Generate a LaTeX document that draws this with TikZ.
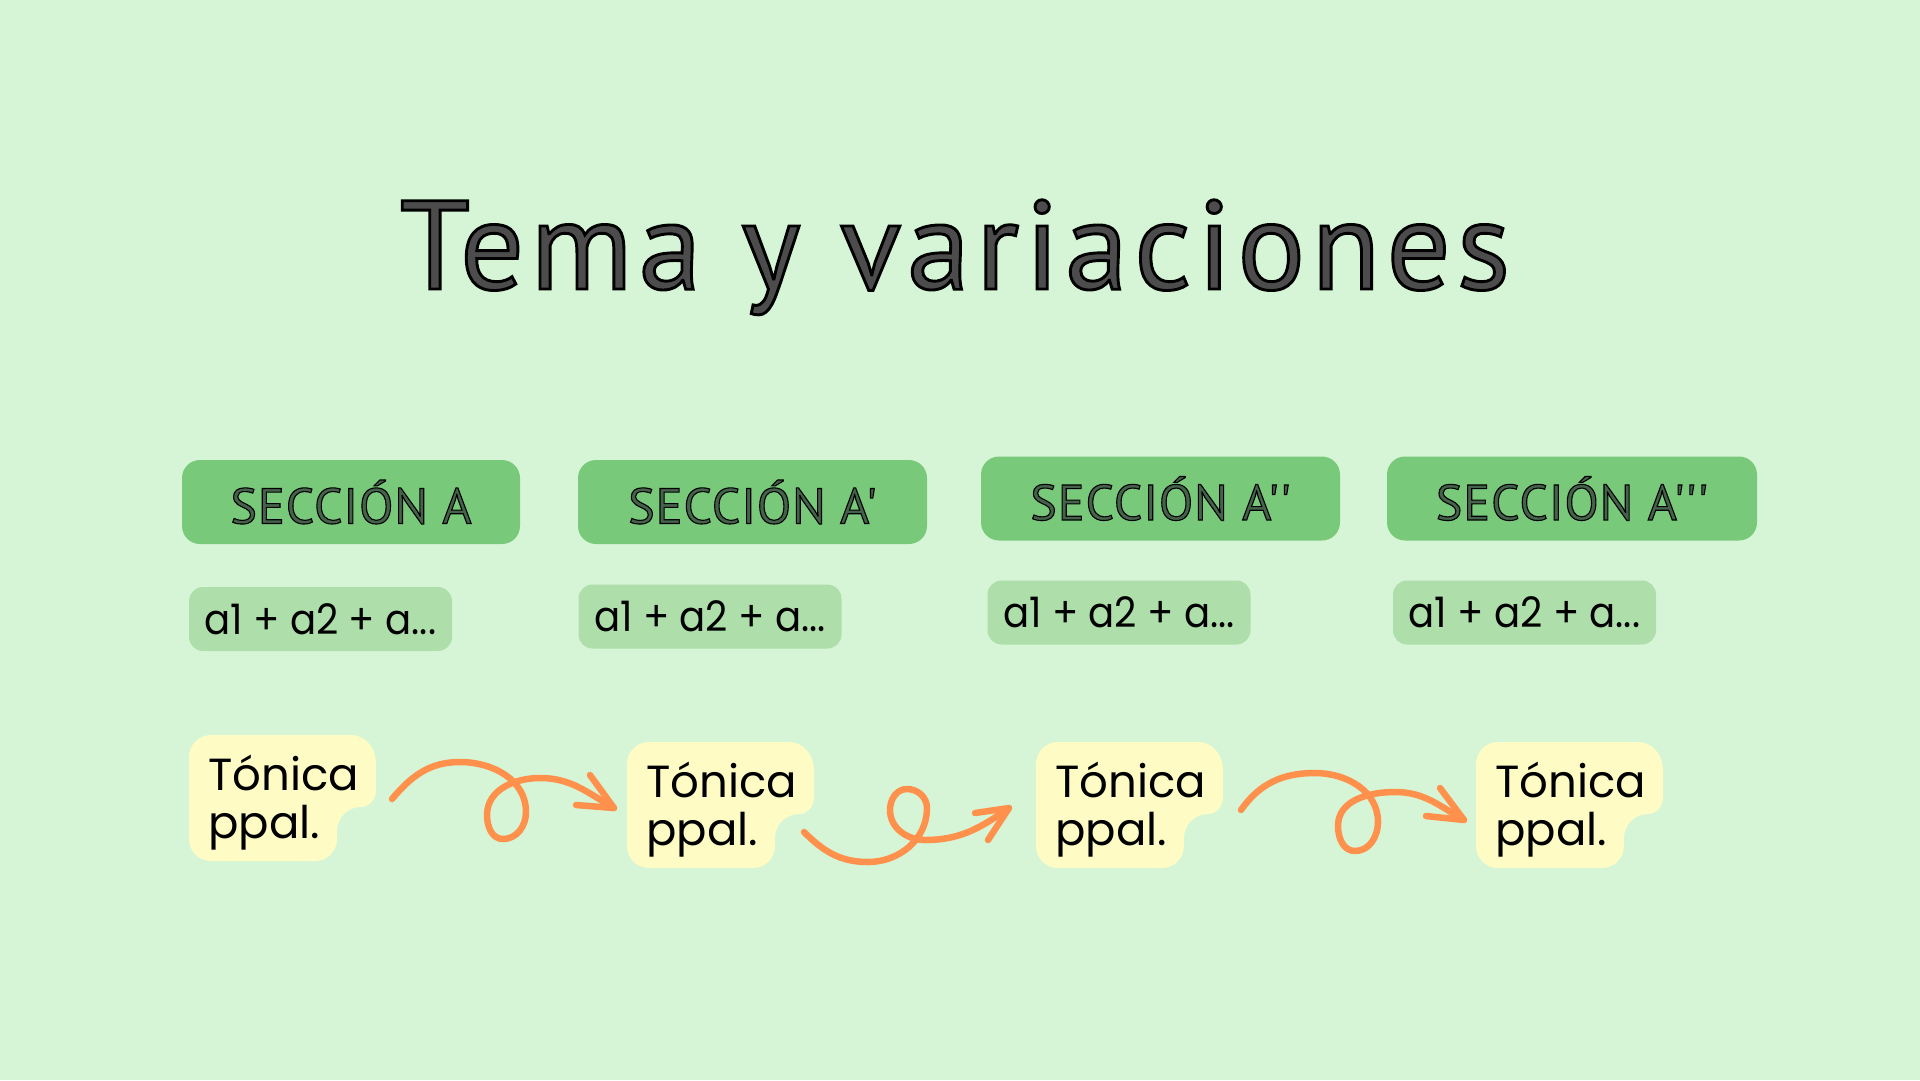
\documentclass[tikz,border=0pt]{standalone}
\usepackage{fontspec}
\setmainfont{Poppins}
\newfontfamily\titlefont[LetterSpace=5]{PT Sans}
\newfontfamily\secfont[LetterSpace=2]{PT Sans}
\definecolor{bg}{HTML}{D6F5D6}
\definecolor{secgreen}{HTML}{79C97B}
\definecolor{subgreen}{HTML}{AEDFAB}
\definecolor{yel}{HTML}{FEFCC4}
\definecolor{orng}{HTML}{FF914D}
% sketch text: black outline stroked over a darker hatch-like fill
\newcommand\sketchtext[3]{\special{pdf:code 2 Tr #1 w #2 rg}#3\special{pdf:code 0 Tr 0 0 0 rg}}
\tikzset{
  titletext/.style={inner sep=0pt, anchor=base, text=black},
  secbox/.style={fill=secgreen, rounded corners=18pt, minimum width=#1, minimum height=84pt, inner sep=0pt,
     text=black, font=\secfont\fontsize{50}{50}\selectfont},
  subbox/.style={fill=subgreen, rounded corners=14pt, minimum width=263pt, minimum height=64pt, inner sep=0pt,
     font=\fontsize{42}{42}\selectfont, text=black},
  tontext/.style={inner sep=0pt, anchor=base west, font=\fontsize{45}{45}\selectfont, text=black},
  boxanchor/.style={inner sep=0pt, minimum width=187pt, minimum height=126pt, anchor=north west},
  arr/.style={draw=orng, line width=6.5pt, line cap=round, line join=round},
}
\newcommand\tonbox[3]{%
  \fill[yel] (#2+22,#3) -- (#2+162,#3) to[out=0,in=90] (#2+187,#3+28) -- (#2+187,#3+55)
    to[out=-90,in=0] (#2+172,#3+72) to[out=180,in=90] (#2+148,#3+96) -- (#2+148,#3+104)
    to[out=-90,in=0] (#2+126,#3+126) -- (#2+22,#3+126) to[out=180,in=-90] (#2,#3+104)
    -- (#2,#3+22) to[out=90,in=180] cycle;
  \node[boxanchor] (#1) at (#2,#3) {};
  \node[tontext] (#1t) at (#2+19,#3+55) {Tónica};
  \node[tontext] (#1p) at (#2+19,#3+103) {ppal.};
}
\newcommand\sectxt[1]{\sketchtext{1.1}{0.27 0.39 0.29}{#1}}
\begin{document}
\begin{tikzpicture}[x=1pt,y=-1pt]
\fill[bg] (0,0) rectangle (1920,1080);
\useasboundingbox (0,0) rectangle (1920,1080);

% title
\node[titletext] (title) at (955,289)
  {\resizebox{1110pt}{!}{\titlefont\fontsize{131}{131}\selectfont\sketchtext{3}{0.3 0.3 0.3}{Tema y variaciones}}};

% section headers
\node[secbox=338pt] (s1) at (351,502) {\sectxt{SECCIÓN A}};
\node[secbox=349pt] (s2) at (752.5,502) {\sectxt{SECCIÓN A'}};
\node[secbox=359pt] (s3) at (1160.5,498.5) {\sectxt{SECCIÓN A''}};
\node[secbox=370pt] (s4) at (1572,498.5) {\sectxt{SECCIÓN A'''}};

% sub boxes
\node[subbox] (p1) at (320.5,619) {\scalebox{0.92}[1]{a1 + a2 + a...}};
\node[subbox] (p2) at (710,616.5) {\scalebox{0.92}[1]{a1 + a2 + a...}};
\node[subbox] (p3) at (1119,612.5) {\scalebox{0.92}[1]{a1 + a2 + a...}};
\node[subbox] (p4) at (1524.5,612.5) {\scalebox{0.92}[1]{a1 + a2 + a...}};

% tonica boxes
\tonbox{b1}{189}{735}
\tonbox{b2}{627}{742}
\tonbox{b3}{1036}{742}
\tonbox{b4}{1476}{742}

% arrow 1
\coordinate (a1s) at (392,799);
\coordinate (a1e) at (614,808);
\draw[arr] (a1s) to[out=50,in=180] (460,762) to[out=0,in=90] (526,812) to[out=-90,in=0] (503,839)
  to[out=180,in=-90] (487,815) to[out=90,in=180] (540,778) to[out=0,in=150] (a1e);
\draw[arr] (590,775) -- (a1e) -- (576,805);

% arrow 2
\coordinate (a2s) at (804,832);
\coordinate (a2e) at (1009,808);
\draw[arr] (a2s) to[out=-45,in=180] (868,862) to[out=0,in=-90] (927,808) to[out=90,in=0] (907,789)
  to[out=180,in=90] (890,810) to[out=-90,in=180] (925,840) to[out=0,in=-145] (a2e);
\draw[arr] (975,813) -- (a2e) -- (988,840);

% arrow 3
\coordinate (a3s) at (1241,810);
\coordinate (a3e) at (1464,820);
\draw[arr] (a3s) to[out=55,in=180] (1315,773) to[out=0,in=90] (1378,822) to[out=-90,in=0] (1355,851)
  to[out=180,in=-90] (1338,826) to[out=90,in=180] (1395,792) to[out=0,in=150] (a3e);
\draw[arr] (1440,788) -- (a3e) -- (1426,816);
\end{tikzpicture}
\end{document}
